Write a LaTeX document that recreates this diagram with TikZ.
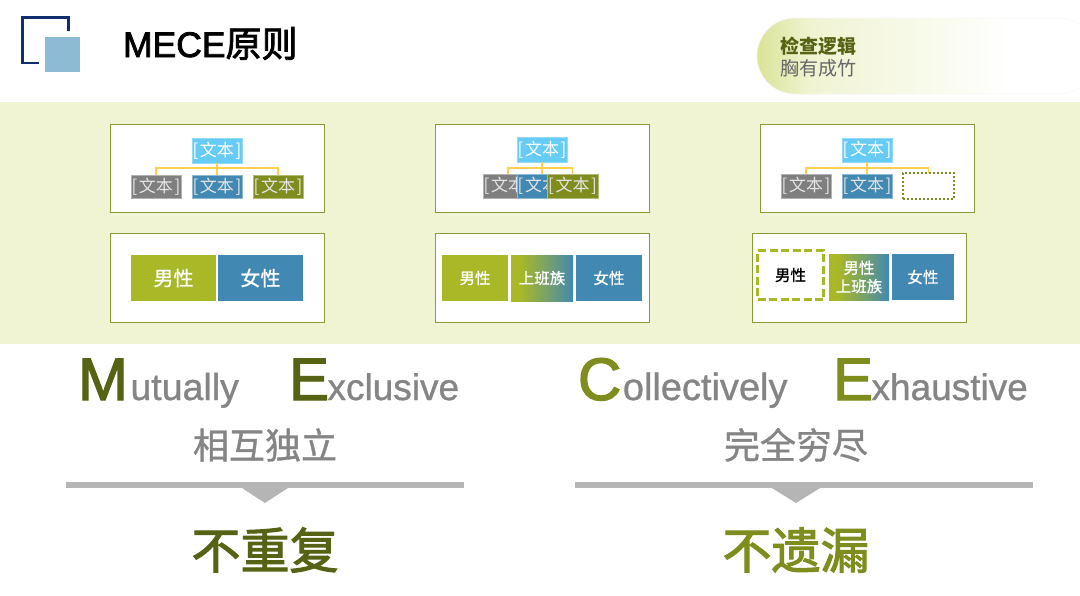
\documentclass[tikz,border=0pt]{standalone}
\usepackage{fontspec}
\usepackage{xcolor}
\usetikzlibrary{calc}
\setmainfont{Liberation Sans}
\newfontfamily\cjk{Noto Sans CJK SC}
\newfontfamily\cjkm[FakeBold=1.0]{Noto Sans CJK SC}
\newfontfamily\cjkh[FakeBold=2.2]{Noto Sans CJK SC}
\newfontfamily\latm[FakeBold=0.9]{Liberation Sans}
\newfontfamily\lath[FakeBold=2.2]{Liberation Sans}
\definecolor{band}{HTML}{F0F4D2}
\definecolor{pillL}{HTML}{DAE397}
\definecolor{dkolive}{HTML}{566214}
\definecolor{olive}{HTML}{7F8D1E}
\definecolor{lime}{HTML}{A8B826}
\definecolor{teal}{HTML}{4189B3}
\definecolor{sky}{HTML}{66CCF5}
\definecolor{gry}{HTML}{7F7F7F}
\definecolor{txtgry}{HTML}{858585}
\definecolor{rule}{HTML}{B5B5B5}
\definecolor{conn}{HTML}{FFCF4D}
\definecolor{navy}{HTML}{0F2E6E}
\definecolor{pale}{HTML}{8DBAD5}
\definecolor{frameol}{HTML}{8A9A35}
\pgfdeclarehorizontalshading{mixgrad}{100bp}{color(0bp)=(lime);color(32bp)=(lime);color(55bp)=(lime!50!teal);color(75bp)=(teal);color(100bp)=(teal)}
\pgfdeclarehorizontalshading{pillgrad}{100bp}{color(0bp)=(pillL);color(25bp)=(pillL);color(33bp)=(band);color(54bp)=(band!30!white);color(62bp)=(white);color(100bp)=(white)}
\newcommand{\pxbox}[7][]{% options, name, x1,y1,x2,y2, text
  \node[inner sep=0pt,outer sep=0pt,minimum width={(#5-#3)*1pt},minimum height={(#6-#4)*1pt},#1] (#2) at ({(#3+#5)/2},{(#4+#6)/2}) {#7};}
\newcommand{\tb}{[\kern1.6pt 文本\kern1.6pt ]}
\tikzset{
  panel/.style={draw=frameol,line width=1pt,fill=white},
  wedge/.style={fill=rule,draw=none},
  link/.style={draw=conn,line width=1.2pt},
  bartext/.style={text=white,font=\cjkm\fontsize{#1}{#1}\selectfont,align=center},
  treetext/.style={font=\cjk\fontsize{17}{17}\selectfont},
  topbox/.style={fill=sky,draw=sky!70!white,line width=.5pt,treetext,text=white},
  graybox/.style={fill=gry,draw=gry!60!white,line width=.5pt,treetext,text=white!90!black},
  bluebox/.style={fill=teal,draw=teal!60!white,line width=.5pt,treetext,text=white!90!black},
  olivebox/.style={fill=olive,draw=olive!60!white,line width=.5pt,treetext,text=white!90!black},
  big/.style={anchor=base west,inner sep=0pt,outer sep=0pt},
  center text/.style={anchor=center,inner sep=0pt,outer sep=0pt},
}
% colour, capital, rest of word, gap, size of the rest
\newcommand{\wordpair}[5]{{\lath\fontsize{60}{60}\selectfont\color{#1}#2}\kern#4pt{\latm\fontsize{#5}{#5}\selectfont\color{txtgry}#3}}
\begin{document}
\begin{tikzpicture}[x=1pt,y=-1pt]
\useasboundingbox (0,0) rectangle (1080,595);
\fill[white] (0,0) rectangle (1080,595);
\pxbox[fill=band]{bandbox}{0}{102}{1080}{344}{}
% header
\draw[navy,line width=2.6pt] (68.5,31) -- (68.5,17.5) -- (22.5,17.5) -- (22.5,63) -- (39,63);
\pxbox[fill=pale]{iconsq}{45}{37}{80}{72}{}
\node[big] (title) at (123,57) {{\lath\fontsize{35.5}{35.5}\selectfont MECE}{\cjkh\fontsize{36}{36}\selectfont 原则}};
\pxbox[shading=pillgrad,rounded corners=38pt,draw=black!3,line width=.5pt]{pill}{757}{18}{1096}{94}{}
\node[anchor=west,inner sep=0pt,text=dkolive,font=\cjk\bfseries\fontsize{19}{19}\selectfont] (pa) at (780,46) {检查逻辑};
\node[anchor=west,inner sep=0pt,text=black!60,font=\cjk\fontsize{19}{19}\selectfont] (pb) at (780,68) {胸有成竹};
% panels
\pxbox[panel]{pa1}{110}{124}{324}{212}{}
\pxbox[panel]{pa2}{110}{233.5}{324}{322}{}
\pxbox[panel]{pb1}{435}{124}{649}{212}{}
\pxbox[panel]{pb2}{435}{233.5}{649}{322}{}
\pxbox[panel]{pc1}{760}{124}{974}{212}{}
\pxbox[panel]{pc2}{752}{233}{966}{322}{}
% tree A
\pxbox[topbox]{at}{192}{138}{242}{163}{\tb}
\pxbox[graybox]{a1}{131}{175}{181}{198}{\tb}
\pxbox[bluebox]{a2}{192}{175}{242}{198}{\tb}
\pxbox[olivebox]{a3}{253}{175}{303}{198}{\tb}
\draw[link] (a1.north) -- ++(0,-7) -| (a3.north);
\draw[link] (at.south) -- (a2.north);
% tree B
\pxbox[topbox]{bt}{517}{137}{567}{162}{\tb}
\pxbox[graybox]{b1}{483}{174}{533}{198}{\tb}
\pxbox[bluebox]{b2}{517}{174}{567}{198}{\tb}
\pxbox[olivebox]{b3}{547}{174}{598}{198}{\tb}
\draw[link] (b1.north) -- ++(0,-6) -| (b3.north);
\draw[link] (bt.south) -- (b2.north);
% tree C
\pxbox[topbox]{ct}{842}{138}{892}{162}{\tb}
\pxbox[graybox]{c1}{781}{174}{831}{198}{\tb}
\pxbox[bluebox]{c2}{842}{174}{892}{198}{\tb}
\pxbox[draw=olive,line width=1.8pt,dash pattern=on 2pt off 2pt]{c3}{903}{173}{954}{199}{}
\draw[link] (c1.north) -- ++(0,-6) -| (c3.north);
\draw[link] (ct.south) -- (c2.north);
% bars A
\pxbox[fill=lime,bartext=20]{am}{131}{255}{216}{301}{男性}
\pxbox[fill=teal,bartext=20]{af}{218}{255}{303}{301}{女性}
% bars B
\pxbox[fill=lime,bartext=15.5]{bm}{442}{255}{508}{301}{男性}
\pxbox[shading=mixgrad,bartext=15.5]{bw}{511}{255}{573}{301}{上班族}
\pxbox[fill=teal,bartext=15.5]{bf}{576}{255}{642}{301}{女性}
% bars C
\pxbox[draw=lime,line width=3pt,dash pattern=on 8pt off 3.5pt,bartext=15.5,text=black]{cm}{757.5}{250.5}{823.5}{299.5}{男性}
\pxbox[shading=mixgrad,bartext=15.5]{cw}{829}{254}{889}{300}{男性\\[3pt]上班族}
\pxbox[fill=teal,bartext=15.5]{cf}{892}{254}{954}{300}{女性}
% heads
\node[big] (m) at (78,400) {\wordpair{dkolive}{M}{utually}{2.5}{37.5}};
\node[big] (e1) at (289,400) {\wordpair{dkolive}{E}{xclusive}{-1.5}{37}};
\node[big] (c) at (578,400) {\wordpair{olive}{C}{ollectively}{1.5}{38}};
\node[big] (e2) at (833,400) {\wordpair{olive}{E}{xhaustive}{-1.5}{37}};
\node[center text,text=txtgry,font=\cjkm\fontsize{36}{36}\selectfont] (s1) at (265,445) {相互独立};
\node[center text,text=txtgry,font=\cjkm\fontsize{36}{36}\selectfont] (s2) at (796,445) {完全穷尽};
\fill[wedge] (65.5,482) rectangle (464,488);
\fill[wedge] (242,488) -- (288,488) -- (265,503) -- cycle;
\fill[wedge] (575,482) rectangle (1033,488);
\fill[wedge] (772,488) -- (820,488) -- (796,503) -- cycle;
\node[center text,text=dkolive,font=\cjkh\fontsize{49}{49}\selectfont] (r1) at (265,550) {不重复};
\node[center text,text=olive,font=\cjkh\fontsize{49}{49}\selectfont] (r2) at (796,550) {不遗漏};
\end{tikzpicture}
\end{document}
